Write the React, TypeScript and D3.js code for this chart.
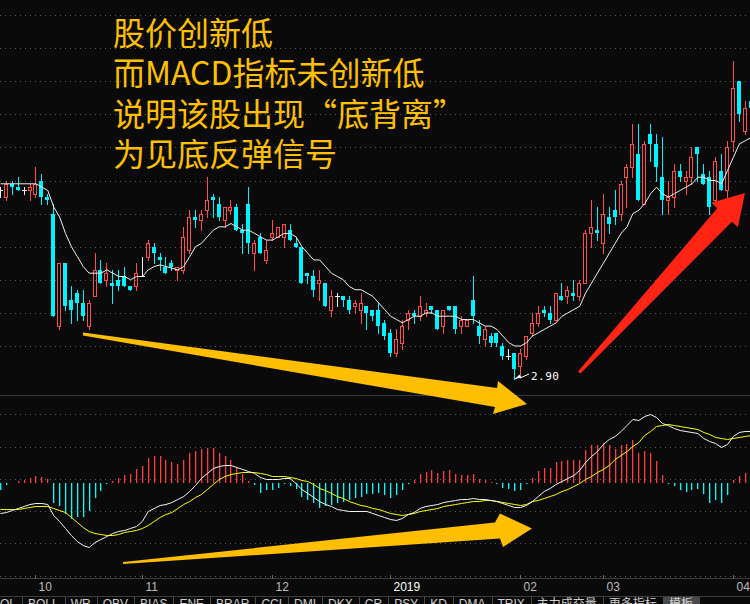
import React, { useEffect, useRef } from "react";
import * as d3 from "d3";

// daily candles, Sep 2018 - Apr 2019
const opens = [
  3.47, 3.45, 3.49, 3.48, 3.47, 3.47, 3.46, 3.50, 3.45, 3.40,
  3.06, 3.25, 3.14, 3.16, 3.13, 3.06, 3.15, 3.23, 3.20, 3.19,
  3.20, 3.21, 3.18, 3.18, 3.21, 3.27, 3.30, 3.27, 3.24, 3.25,
  3.23, 3.23, 3.29, 3.39, 3.38, 3.41, 3.45, 3.43, 3.38, 3.41,
  3.42, 3.35, 3.43, 3.28, 3.33, 3.26, 3.33, 3.33, 3.33, 3.35,
  3.31, 3.30, 3.22, 3.21, 3.19, 3.19, 3.11, 3.15, 3.15, 3.14,
  3.12, 3.11, 3.12, 3.11, 3.11, 3.07, 3.04, 2.98, 3.01, 3.08,
  3.10, 3.09, 3.10, 3.12, 3.11, 3.06, 3.12, 3.12, 3.06, 3.06,
  3.14, 3.06, 3.02, 3.03, 3.04, 3.00, 2.97, 2.98, 2.94, 2.97,
  3.04, 3.07, 3.11, 3.10, 3.08, 3.15, 3.15, 3.16, 3.15, 3.19,
  3.34, 3.35, 3.31, 3.39, 3.41, 3.40, 3.51, 3.54, 3.58, 3.43,
  3.64, 3.61, 3.51, 3.44, 3.45, 3.53, 3.50, 3.51, 3.60, 3.52,
  3.51, 3.44, 3.53, 3.47, 3.62, 3.80, 3.65, 3.74,
];
const highs = [
  3.48, 3.50, 3.50, 3.51, 3.48, 3.49, 3.54, 3.52, 3.46, 3.43,
  3.25, 3.25, 3.18, 3.17, 3.17, 3.14, 3.28, 3.26, 3.25, 3.23,
  3.23, 3.24, 3.18, 3.25, 3.27, 3.32, 3.31, 3.28, 3.27, 3.26,
  3.24, 3.36, 3.41, 3.41, 3.41, 3.51, 3.46, 3.45, 3.42, 3.44,
  3.43, 3.37, 3.48, 3.32, 3.34, 3.32, 3.38, 3.36, 3.37, 3.37,
  3.33, 3.30, 3.22, 3.23, 3.23, 3.19, 3.17, 3.16, 3.15, 3.15,
  3.14, 3.16, 3.12, 3.11, 3.13, 3.08, 3.05, 3.05, 3.08, 3.11,
  3.11, 3.15, 3.13, 3.12, 3.11, 3.11, 3.12, 3.12, 3.09, 3.08,
  3.21, 3.08, 3.06, 3.04, 3.04, 3.01, 2.99, 2.98, 2.99, 3.03,
  3.10, 3.12, 3.12, 3.12, 3.16, 3.19, 3.18, 3.20, 3.20, 3.35,
  3.44, 3.42, 3.46, 3.42, 3.47, 3.50, 3.55, 3.67, 3.67, 3.62,
  3.67, 3.64, 3.63, 3.50, 3.55, 3.55, 3.53, 3.60, 3.60, 3.55,
  3.53, 3.57, 3.58, 3.62, 3.86, 3.80, 3.74, 3.75,
];
const lows = [
  3.45, 3.44, 3.46, 3.47, 3.46, 3.44, 3.45, 3.43, 3.43, 3.09,
  3.05, 3.11, 3.07, 3.08, 3.08, 3.05, 3.15, 3.19, 3.18, 3.13,
  3.17, 3.18, 3.17, 3.17, 3.21, 3.26, 3.25, 3.23, 3.22, 3.23,
  3.20, 3.22, 3.28, 3.36, 3.35, 3.39, 3.39, 3.38, 3.36, 3.40,
  3.35, 3.28, 3.28, 3.23, 3.28, 3.25, 3.32, 3.33, 3.30, 3.32,
  3.30, 3.19, 3.19, 3.15, 3.14, 3.12, 3.09, 3.12, 3.12, 3.10,
  3.10, 3.07, 3.05, 3.08, 3.04, 3.02, 2.97, 2.97, 2.99, 3.05,
  3.07, 3.08, 3.09, 3.10, 3.05, 3.04, 3.11, 3.04, 3.04, 3.06,
  3.07, 3.01, 3.00, 3.00, 3.00, 2.96, 2.96, 2.90, 2.91, 2.96,
  3.03, 3.06, 3.09, 3.07, 3.08, 3.14, 3.13, 3.14, 3.14, 3.19,
  3.30, 3.32, 3.28, 3.34, 3.37, 3.38, 3.42, 3.51, 3.44, 3.43,
  3.56, 3.50, 3.40, 3.40, 3.42, 3.50, 3.46, 3.49, 3.50, 3.49,
  3.40, 3.43, 3.47, 3.44, 3.59, 3.68, 3.64, 3.71,
];
const closes = [
  3.47, 3.49, 3.48, 3.47, 3.47, 3.48, 3.49, 3.45, 3.44, 3.09,
  3.25, 3.12, 3.11, 3.13, 3.09, 3.13, 3.23, 3.19, 3.22, 3.18,
  3.18, 3.18, 3.17, 3.22, 3.21, 3.31, 3.28, 3.26, 3.22, 3.24,
  3.24, 3.33, 3.39, 3.38, 3.40, 3.44, 3.44, 3.39, 3.42, 3.42,
  3.35, 3.34, 3.31, 3.31, 3.28, 3.29, 3.34, 3.36, 3.37, 3.32,
  3.30, 3.19, 3.21, 3.17, 3.20, 3.12, 3.15, 3.15, 3.14, 3.11,
  3.13, 3.13, 3.10, 3.09, 3.06, 3.03, 2.98, 3.02, 3.06, 3.10,
  3.09, 3.12, 3.11, 3.11, 3.05, 3.11, 3.11, 3.05, 3.08, 3.08,
  3.09, 3.03, 3.05, 3.01, 3.01, 2.97, 2.97, 2.93, 2.98, 3.03,
  3.07, 3.10, 3.10, 3.08, 3.16, 3.14, 3.17, 3.15, 3.19, 3.34,
  3.36, 3.34, 3.40, 3.37, 3.39, 3.49, 3.54, 3.61, 3.44, 3.61,
  3.61, 3.54, 3.44, 3.45, 3.53, 3.51, 3.51, 3.57, 3.58, 3.49,
  3.42, 3.56, 3.47, 3.60, 3.78, 3.70, 3.72, 3.72,
];
// white moving average line
const ma10 = [
  3.49, 3.49, 3.49, 3.49, 3.49, 3.49, 3.49, 3.48, 3.47, 3.42,
  3.39, 3.34, 3.30, 3.27, 3.24, 3.22, 3.22, 3.22, 3.23, 3.22,
  3.21, 3.21, 3.20, 3.21, 3.21, 3.23, 3.24, 3.245, 3.24, 3.235,
  3.23, 3.24, 3.27, 3.30, 3.31, 3.33, 3.35, 3.36, 3.36, 3.37,
  3.36, 3.35, 3.35, 3.34, 3.33, 3.32, 3.32, 3.33, 3.34, 3.34,
  3.33, 3.30, 3.28, 3.26, 3.26, 3.24, 3.22, 3.21, 3.20, 3.18,
  3.17, 3.17, 3.16, 3.15, 3.13, 3.11, 3.09, 3.08, 3.07, 3.08,
  3.09, 3.09, 3.10, 3.10, 3.09, 3.09, 3.09, 3.09, 3.08, 3.08,
  3.08, 3.07, 3.06, 3.06, 3.05, 3.03, 3.01, 3.00, 3.00, 3.01,
  3.03, 3.04, 3.05, 3.06, 3.07, 3.09, 3.10, 3.11, 3.12, 3.16,
  3.19, 3.22, 3.25, 3.28, 3.31, 3.34, 3.36, 3.40, 3.41, 3.43,
  3.46, 3.48, 3.46, 3.45, 3.46, 3.47, 3.48, 3.49, 3.51, 3.51,
  3.50, 3.50, 3.49, 3.53, 3.57, 3.61, 3.62, 3.63,
];
// MACD: DIF (white), DEA (yellow), bars
const dif = [
  -0.031, -0.030, -0.028, -0.026, -0.024, -0.022, -0.021, -0.021, -0.022, -0.033,
  -0.039, -0.046, -0.053, -0.059, -0.063, -0.065, -0.060, -0.057, -0.054, -0.051,
  -0.049, -0.048, -0.046, -0.044, -0.039, -0.029, -0.026, -0.023, -0.022, -0.020,
  -0.017, -0.014, -0.009, -0.003, 0.004, 0.009, 0.014, 0.016, 0.017, 0.017,
  0.015, 0.013, 0.011, 0.009, 0.005, 0.003, 0.003, 0.003, 0.004, 0.004,
  -0.001, -0.007, -0.011, -0.015, -0.019, -0.022, -0.024, -0.027, -0.028, -0.029,
  -0.029, -0.029, -0.029, -0.031, -0.033, -0.035, -0.037, -0.038, -0.036, -0.032,
  -0.030, -0.026, -0.024, -0.023, -0.022, -0.020, -0.019, -0.018, -0.017, -0.017,
  -0.016, -0.017, -0.017, -0.018, -0.019, -0.021, -0.023, -0.025, -0.025, -0.023,
  -0.019, -0.014, -0.009, -0.006, -0.002, 0.001, 0.004, 0.007, 0.012, 0.020,
  0.026, 0.031, 0.038, 0.043, 0.046, 0.051, 0.057, 0.063, 0.062, 0.066,
  0.068, 0.065, 0.059, 0.057, 0.054, 0.052, 0.051, 0.050, 0.049, 0.044,
  0.041, 0.039, 0.035, 0.038, 0.046, 0.050, 0.051, 0.051,
];
const dea = [
  -0.027, -0.027, -0.027, -0.027, -0.026, -0.025, -0.024, -0.024, -0.024, -0.026,
  -0.028, -0.030, -0.035, -0.040, -0.045, -0.049, -0.051, -0.052, -0.053, -0.053,
  -0.052, -0.050, -0.049, -0.048, -0.046, -0.043, -0.039, -0.035, -0.032, -0.030,
  -0.026, -0.022, -0.019, -0.015, -0.012, -0.007, -0.002, 0.003, 0.006, 0.008,
  0.009, 0.010, 0.010, 0.010, 0.009, 0.008, 0.006, 0.006, 0.006, 0.005,
  0.004, 0.002, 0.001, -0.002, -0.006, -0.008, -0.011, -0.014, -0.016, -0.019,
  -0.021, -0.023, -0.024, -0.026, -0.027, -0.029, -0.031, -0.032, -0.033, -0.032,
  -0.031, -0.029, -0.028, -0.027, -0.026, -0.024, -0.023, -0.022, -0.021, -0.020,
  -0.019, -0.019, -0.018, -0.018, -0.019, -0.020, -0.021, -0.022, -0.023, -0.022,
  -0.019, -0.018, -0.016, -0.014, -0.012, -0.009, -0.007, -0.004, -0.001, 0.003,
  0.006, 0.010, 0.013, 0.017, 0.023, 0.027, 0.031, 0.036, 0.040, 0.047,
  0.051, 0.056, 0.057, 0.058, 0.057, 0.056, 0.055, 0.054, 0.053, 0.050,
  0.048, 0.045, 0.044, 0.043, 0.044, 0.045, 0.046, 0.047,
];
const macdBars = [
  -0.007, -0.002, 0.0, 0.002, 0.003, 0.005, 0.007, 0.006, 0.004, -0.020,
  -0.023, -0.031, -0.036, -0.034, -0.034, -0.028, -0.015, -0.008, -0.001, 0.002,
  0.005, 0.008, 0.009, 0.014, 0.017, 0.025, 0.027, 0.027, 0.023, 0.021,
  0.019, 0.023, 0.030, 0.032, 0.034, 0.035, 0.035, 0.030, 0.027, 0.023,
  0.016, 0.009, 0.002, -0.002, -0.010, -0.007, -0.007, -0.005, -0.001, -0.003,
  -0.006, -0.014, -0.017, -0.021, -0.025, -0.024, -0.022, -0.021, -0.019, -0.017,
  -0.015, -0.014, -0.011, -0.011, -0.010, -0.012, -0.015, -0.013, -0.007, -0.001,
  0.003, 0.009, 0.011, 0.013, 0.010, 0.012, 0.013, 0.009, 0.008, 0.008,
  0.009, 0.004, 0.003, 0.001, -0.001, -0.005, -0.006, -0.008, -0.007, -0.001,
  0.005, 0.012, 0.015, 0.015, 0.021, 0.022, 0.023, 0.023, 0.023, 0.033,
  0.038, 0.038, 0.040, 0.038, 0.034, 0.038, 0.039, 0.043, 0.030, 0.032,
  0.030, 0.022, 0.008, -0.001, -0.003, -0.007, -0.009, -0.007, -0.006, -0.011,
  -0.020, -0.017, -0.020, -0.012, 0.003, 0.007, 0.010, 0.011,
];

const monthIdx = [6, 24, 46, 66, 88, 102, 124];
const monthLabels = ["10", "11", "12", "2019", "02", "03", "04"];
const priceGrid = [3.0, 3.1, 3.2, 3.3, 3.4, 3.5, 3.6, 3.7, 3.8, 3.9, 4.0];
const macdGrid = [0.0685, 0.0355, 0.0035, -0.0285, -0.0605, -0.0935];

const notes = ["股价创新低", "而MACD指标未创新低", "说明该股出现“底背离”", "为见底反弹信号"];
const tabs = [
  "VOL", "BOLL", "WR", "OBV", "BIAS", "ENE", "BRAR", "CCI", "DMI", "DKX",
  "CR", "PSY", "KD", "DMA", "TRIX", "主力成交量", "更多指标", "模板",
];

const RED = "#ff4d4d";
const CYAN = "#00f4ff";

export default function App() {
  const ref = useRef<SVGSVGElement>(null);

  useEffect(() => {
    const svg = d3.select(ref.current);
    svg.selectAll("*").remove();
    const W = 750,
      H = 604;

    svg.append("rect").attr("width", W).attr("height", H).attr("fill", "#0a0a0a");

    const x = d3.scaleLinear().domain([0, 127]).range([0, 750.6]);
    const y = d3.scaleLinear().domain([3.0, 4.0]).range([346, 15]);
    const my = d3.scaleLinear().domain([-0.1, 0.1]).range([582.5, 382.5]);
    const px = (i: number) => Math.round(x(i));
    const py = (v: number) => Math.round(y(v));

    // grid
    const grid = svg.append("g").attr("shape-rendering", "crispEdges");
    priceGrid.forEach((v) => {
      grid.append("line").attr("x1", 0).attr("x2", W)
        .attr("y1", py(v) + 0.5).attr("y2", py(v) + 0.5)
        .attr("stroke", "#5a5a5a").attr("stroke-dasharray", "1 4");
    });
    macdGrid.forEach((v) => {
      const yy = Math.round(my(v)) + 0.5;
      grid.append("line").attr("x1", 0).attr("x2", W).attr("y1", yy).attr("y2", yy)
        .attr("stroke", "#5a5a5a").attr("stroke-dasharray", "1 4");
    });
    grid.append("line").attr("x1", 0).attr("x2", W).attr("y1", 395.5).attr("y2", 395.5)
      .attr("stroke", "#3a3a3a");

    // candles
    const cg = svg.append("g").attr("shape-rendering", "crispEdges");
    opens.forEach((o, i) => {
      const c = closes[i];
      const cx = px(i);
      const yo = py(o), yc = py(c), yh = py(highs[i]), yl = py(lows[i]);
      if (c > o) {
        cg.append("line").attr("x1", cx + 0.5).attr("x2", cx + 0.5)
          .attr("y1", yh).attr("y2", yc).attr("stroke", RED);
        cg.append("line").attr("x1", cx + 0.5).attr("x2", cx + 0.5)
          .attr("y1", yo).attr("y2", yl + 1).attr("stroke", RED);
        cg.append("rect").attr("x", cx - 1.5).attr("y", yc + 0.5)
          .attr("width", 3).attr("height", Math.max(1, yo - yc))
          .attr("fill", "none").attr("stroke", RED);
      } else if (c < o) {
        cg.append("line").attr("x1", cx + 0.5).attr("x2", cx + 0.5)
          .attr("y1", yh).attr("y2", yl + 1).attr("stroke", CYAN);
        cg.append("rect").attr("x", cx - 2).attr("y", yo)
          .attr("width", 4).attr("height", Math.max(1, yc - yo)).attr("fill", CYAN);
      } else {
        cg.append("line").attr("x1", cx + 0.5).attr("x2", cx + 0.5)
          .attr("y1", yh).attr("y2", yl + 1).attr("stroke", "#f0f0f0");
        cg.append("line").attr("x1", cx - 2).attr("x2", cx + 3)
          .attr("y1", yo + 0.5).attr("y2", yo + 0.5).attr("stroke", "#f0f0f0");
      }
    });

    // moving average
    svg.append("path")
      .attr("d", d3.line<number>().x((_, i) => x(i) + 0.5).y((v) => y(v))(ma10))
      .attr("fill", "none").attr("stroke", "#f2f2f2").attr("stroke-width", 1);

    // lowest price marker
    const lowIdx = d3.minIndex(lows);
    const lx = px(lowIdx) + 1, ly = py(lows[lowIdx]);
    svg.append("path")
      .attr("d", `M${lx},${ly} l5,-3 l0,2 l9,-4`)
      .attr("fill", "none").attr("stroke", "#ffffff").attr("stroke-width", 1);
    svg.append("path").attr("d", `M${lx},${ly} l6,-1.5 l-1.5,-3 z`).attr("fill", "#ffffff");
    svg.append("text").attr("x", lx + 16).attr("y", ly + 1)
      .attr("font-family", "DejaVu Sans Mono").attr("font-size", 11)
      .attr("letter-spacing", 0.5).attr("fill", "#ffffff")
      .text(lows[lowIdx].toFixed(2));

    // MACD bars
    const bg = svg.append("g");
    const y0 = Math.round(my(0));
    macdBars.forEach((v, i) => {
      if (v === 0) return;
      const cx = px(i);
      const yv = Math.round(my(v));
      bg.append("rect").attr("x", cx).attr("width", 1.3)
        .attr("y", Math.min(y0, yv)).attr("height", Math.abs(yv - y0))
        .attr("fill", v > 0 ? "#ff3c3c" : "#00ffff");
    });
    const mline = d3.line<number>().x((_, i) => x(i) + 0.5).y((v) => my(v));
    svg.append("path").attr("d", mline(dea)).attr("fill", "none")
      .attr("stroke", "#ffff00").attr("stroke-width", 1);
    svg.append("path").attr("d", mline(dif)).attr("fill", "none")
      .attr("stroke", "#f5f5f5").attr("stroke-width", 1);

    // time axis
    const ax = svg.append("g").attr("shape-rendering", "crispEdges");
    ax.append("line").attr("x1", 0).attr("x2", W).attr("y1", 578.5).attr("y2", 578.5)
      .attr("stroke", "#3c3c3c");
    monthIdx.forEach((m, k) => {
      const tx = px(m) + 0.5;
      ax.append("line").attr("x1", tx).attr("x2", tx).attr("y1", 575).attr("y2", 579)
        .attr("stroke", "#6a6a6a");
      ax.append("text").attr("x", tx + 3).attr("y", 591)
        .attr("font-family", "Liberation Sans Narrow, Liberation Sans, sans-serif")
        .attr("font-size", 12)
        .attr("fill", monthLabels[k] === "2019" ? "#ffffff" : "#bdbdbd")
        .text(monthLabels[k]);
    });

    // indicator tabs at the bottom
    const tg = svg.append("g");
    tg.append("line").attr("x1", 0).attr("x2", W).attr("y1", 596.5).attr("y2", 596.5)
      .attr("stroke", "#3c3c3c").attr("shape-rendering", "crispEdges");
    let cur = -14;
    tabs.forEach((t, k) => {
      const txt = tg.append("text").attr("x", cur + 6).attr("y", 608)
        .attr("font-family", "Liberation Sans, Noto Sans CJK SC, sans-serif")
        .attr("font-size", 12).attr("fill", "#d0d0d0").text(t);
      const w = (txt.node() as SVGTextElement).getComputedTextLength() + 12;
      if (k === tabs.length - 1) {
        tg.insert("rect", "text").attr("x", cur + 1).attr("y", 597)
          .attr("width", w - 1).attr("height", 8).attr("fill", "#4a4a4a");
      }
      cur += w;
      tg.append("line").attr("x1", Math.round(cur) + 0.5).attr("x2", Math.round(cur) + 0.5)
        .attr("y1", 597).attr("y2", H).attr("stroke", "#4a4a4a")
        .attr("shape-rendering", "crispEdges");
    });

    // hand drawn arrows
    const arrows = [
      { fill: "#ffbe00", pts: [[83, 332.5], [497, 388], [498, 381], [527, 404], [493, 414], [495, 407], [83, 335.5]] },
      { fill: "#ffbe00", pts: [[123, 562], [495, 522.5], [500, 513.5], [532, 528.5], [503, 547], [500, 538.5], [123, 564]] },
      { fill: "#ff2414", pts: [[578, 371.5], [717.3, 208.2], [711.4, 202.8], [745, 193], [737.8, 227.2], [731.9, 221.8], [580.5, 373.5]] },
    ];
    arrows.forEach((a) => {
      svg.append("polygon")
        .attr("points", a.pts.map((p) => p.join(",")).join(" "))
        .attr("fill", a.fill);
    });

    // annotation
    notes.forEach((t, k) => {
      svg.append("text").attr("x", 113).attr("y", 45 + k * 40.4)
        .attr("font-family", "Noto Sans CJK SC, sans-serif")
        .attr("font-size", 32).attr("fill", "#ffc000").text(t);
    });
  }, []);

  return (
    <svg
      ref={ref}
      width={750}
      height={604}
      style={{ position: "absolute", left: 0, top: 0, display: "block" }}
    />
  );
}
